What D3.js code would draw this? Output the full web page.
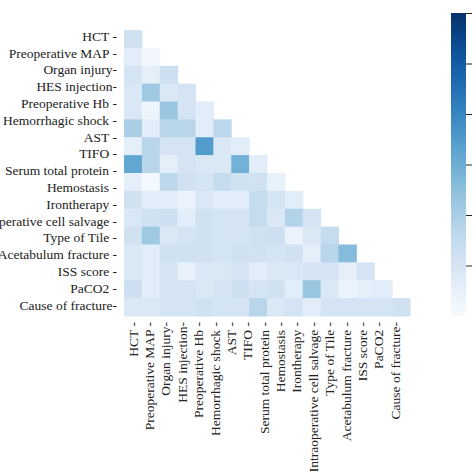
<!DOCTYPE html>
<html>
<head>
<script src="https://d3js.org/d3.v7.min.js"></script>
<style>
  body { margin: 0; background: #fff; }
  svg text { font-family: "Liberation Serif", "Times New Roman", "DejaVu Serif", serif; font-size: 13.5px; fill: #222; }
</style>
</head>
<body>
<div id="viz"></div>
<script>
// label texts as printed (17 labels, 16x16 triangle of cells)
const yLabels = ['HCT -', 'Preoperative  MAP -', 'Organ injury-', 'HES injection-', 'Preoperative Hb -',
  'Hemorrhagic shock -', 'AST -', 'TIFO -', 'Serum total protein -', 'Hemostasis -', 'Irontherapy -',
  'Intraoperative cell salvage -', 'Type of Tile -', 'Acetabulum fracture -', 'ISS score -', 'PaCO2 -', 'Cause of fracture-'];
const xLabels = yLabels;

// lower triangle values, row i has i+1 cells
const values = [
  [0.12],
  [0.07, 0.02],
  [0.11, 0.06, 0.13],
  [0.09, 0.23, 0.09, 0.11],
  [0.09, 0.03, 0.24, 0.11, 0.07],
  [0.21, 0.07, 0.18, 0.18, 0.07, 0.17],
  [0.06, 0.18, 0.11, 0.11, 0.36, 0.09, 0.07],
  [0.33, 0.18, 0.06, 0.11, 0.09, 0.09, 0.30, 0.07],
  [0.06, 0.01, 0.17, 0.12, 0.11, 0.15, 0.12, 0.12, 0.05],
  [0.12, 0.07, 0.07, 0.04, 0.09, 0.07, 0.07, 0.15, 0.11, 0.07],
  [0.09, 0.12, 0.13, 0.07, 0.12, 0.11, 0.11, 0.15, 0.09, 0.19, 0.11],
  [0.12, 0.23, 0.09, 0.11, 0.12, 0.11, 0.11, 0.12, 0.13, 0.04, 0.09, 0.15],
  [0.09, 0.07, 0.12, 0.12, 0.12, 0.11, 0.12, 0.12, 0.11, 0.12, 0.06, 0.18, 0.27],
  [0.09, 0.07, 0.11, 0.05, 0.09, 0.09, 0.11, 0.07, 0.09, 0.09, 0.11, 0.11, 0.06, 0.11],
  [0.13, 0.07, 0.11, 0.11, 0.09, 0.11, 0.13, 0.11, 0.12, 0.07, 0.24, 0.09, 0.04, 0.06, 0.07],
  [0.09, 0.09, 0.11, 0.11, 0.12, 0.11, 0.11, 0.18, 0.09, 0.11, 0.07, 0.11, 0.11, 0.11, 0.11, 0.12]
];
const colorTicks = [0.1, 0.2, 0.3, 0.4, 0.5, 0.6];

const width = 474, height = 474;
const svg = d3.select('#viz').append('svg').attr('width', width).attr('height', height);

const n = values.length;
const idx = d3.range(n);
const x = d3.scaleBand().domain(idx).range([124, 410]);
const y = d3.scaleBand().domain(idx).range([30, 316]);
const color = d3.scaleSequential(d3.interpolateBlues).domain([0, 0.62]);

const cells = values.flatMap((row, i) => row.map((v, j) => ({ i, j, v })));
svg.append('g').selectAll('rect')
  .data(cells)
  .enter().append('rect')
  .attr('x', d => x(d.j))
  .attr('y', d => y(d.i))
  .attr('width', x.bandwidth() + 0.5)
  .attr('height', y.bandwidth() + 0.5)
  .attr('fill', d => color(d.v));

// labels sit on their own spacing
const ly = d3.scalePoint().domain(d3.range(yLabels.length)).range([36, 305]);
svg.append('g').selectAll('text')
  .data(yLabels)
  .enter().append('text')
  .attr('x', 117)
  .attr('y', (d, i) => ly(i))
  .attr('dy', '0.35em')
  .attr('text-anchor', 'end')
  .text(d => d);

const lx = d3.scalePoint().domain(d3.range(xLabels.length)).range([133, 395]);
svg.append('g').selectAll('text')
  .data(xLabels)
  .enter().append('text')
  .attr('transform', (d, i) => `translate(${lx(i)},322) rotate(-90)`)
  .attr('dy', '0.35em')
  .attr('text-anchor', 'end')
  .text(d => d);

// colorbar (tick labels fall outside the picture in the reference)
const cbY = d3.scaleLinear().domain([0, 0.6]).range([316, 13]);
const defs = svg.append('defs');
const grad = defs.append('linearGradient').attr('id', 'cb')
  .attr('x1', 0).attr('y1', 1).attr('x2', 0).attr('y2', 0);
d3.range(0, 1.01, 0.1).forEach(t => {
  grad.append('stop').attr('offset', t).attr('stop-color', d3.interpolateBlues(t));
});
svg.append('rect')
  .attr('x', 451).attr('y', 13).attr('width', 15).attr('height', 303)
  .attr('fill', 'url(#cb)');
const cbAxis = svg.append('g')
  .attr('transform', 'translate(466,0)')
  .call(d3.axisRight(cbY).tickValues(colorTicks).tickSize(6).tickFormat(''));
cbAxis.select('.domain').remove();
cbAxis.selectAll('.tick line').attr('stroke', '#222');
</script>
</body>
</html>
